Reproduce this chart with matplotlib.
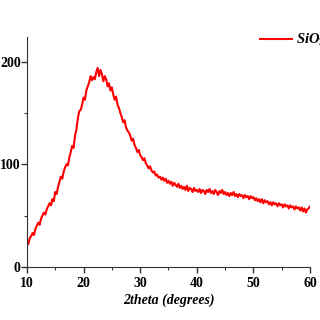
import numpy as np
import matplotlib
matplotlib.use("Agg")
import matplotlib.pyplot as plt
from matplotlib.ticker import MultipleLocator

# XRD scan of SiO2, every 0.25 degrees (2theta 10..60)
two_theta = np.arange(10, 60.001, 0.25)
intensity = [
    25, 22, 28, 30, 33, 31, 37, 40, 43, 41, 47, 50, 53, 51, 56, 59, 62, 60, 66, 64,
    73, 71, 78, 83, 88, 86, 93, 97, 100, 99, 107, 112, 118, 116, 128, 134, 145, 152, 153, 158,
    165, 163, 172, 176, 180, 186, 182, 185, 183, 190, 194, 186, 192, 188, 181, 186, 183, 176, 179, 172,
    175, 168, 163, 166, 158, 155, 150, 146, 141, 143, 136, 133, 131, 128, 123, 125, 119, 116, 112, 114,
    109, 107, 104, 106, 101, 99, 96, 98, 94, 92, 93, 89, 90, 87, 88, 85, 87, 84, 86, 82,
    84, 81, 83, 79, 82, 80, 78, 81, 77, 79, 76, 78, 75, 79, 74, 77, 76, 73, 77, 74,
    75, 73, 76, 72, 75, 74, 71, 75, 73, 76, 72, 74, 71, 75, 73, 70, 74, 72, 75, 71,
    73, 70, 72, 69, 72, 70, 73, 69, 71, 68, 71, 69, 70, 67, 70, 68, 69, 66, 69, 67,
    68, 65, 67, 64, 66, 63, 66, 62, 65, 63, 64, 61, 63, 60, 63, 61, 62, 59, 62, 60,
    61, 58, 61, 59, 60, 57, 60, 58, 59, 56, 59, 57, 58, 55, 58, 54, 57, 53, 56, 57,
    59,
]

plt.rcParams['font.family'] = 'Liberation Serif'
plt.rcParams['font.weight'] = 'bold'
plt.rcParams['mathtext.fontset'] = 'custom'
plt.rcParams['mathtext.it'] = 'Liberation Serif:italic:bold'
plt.rcParams['mathtext.rm'] = 'Liberation Serif:bold'

fig = plt.figure(figsize=(3.2, 3.2), dpi=100)
ax = fig.add_axes([0.084, 0.166, 0.885, 0.718])
ax.plot(two_theta, intensity, color='#ff0000', lw=1.5, label='$SiO_2$')

ax.set_xlim(10, 60)
ax.set_ylim(0, 224)
ax.xaxis.set_major_locator(MultipleLocator(10))
ax.xaxis.set_minor_locator(MultipleLocator(5))
ax.yaxis.set_major_locator(MultipleLocator(100))
ax.yaxis.set_minor_locator(MultipleLocator(50))
for s in ['top', 'right']:
    ax.spines[s].set_visible(False)
for s in ['left', 'bottom']:
    ax.spines[s].set_color('#333333')
ax.tick_params(which='major', length=4, width=1, labelsize=10, colors='#333333', labelcolor='black')
ax.tick_params(axis='x', which='major', pad=3)
ax.tick_params(axis='y', which='major', pad=0.5)
ax.tick_params(which='minor', length=2.5, width=0.8, colors='#333333')
ax.set_xlabel('2theta (degrees)', fontsize=10, style='italic', weight='bold', labelpad=3)

fig.legend(loc='upper left', bbox_to_anchor=(0.77, 0.94), frameon=False,
           handlelength=2.2, handletextpad=0.3, fontsize=10.5)

fig.savefig('out.png', dpi=100)
